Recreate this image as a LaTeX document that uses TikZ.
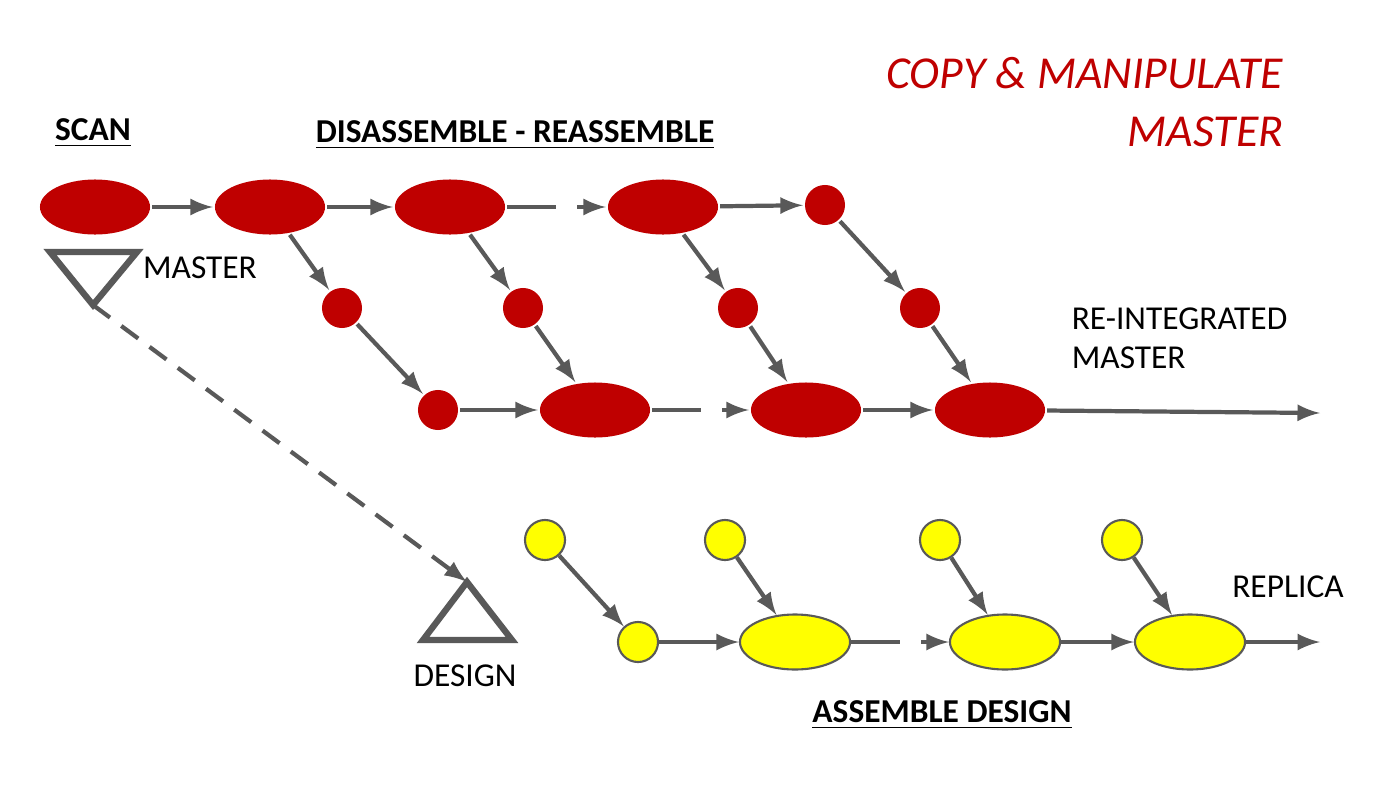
\documentclass[tikz,border=0pt]{standalone}
\usepackage{fontspec}
\setmainfont{Carlito}
\usetikzlibrary{arrows,shapes,positioning}
\definecolor{darkred}{rgb}{0.75, 0.0, 0.0}
\definecolor{arrowgray}{rgb}{0.35, 0.35, 0.35}
\definecolor{yel}{rgb}{1.0, 1.0, 0.0}

\begin{document}
\begin{tikzpicture}[x=0.01cm,y=-0.01cm,line width=1.2pt,
  big/.style={ellipse,fill=darkred,minimum width=1.1cm,minimum height=0.55cm,inner sep=0pt},
  small/.style={circle,fill=darkred,minimum size=0.4cm,inner sep=0pt},
  ybig/.style={ellipse,fill=yel,draw=arrowgray,line width=0.6pt,minimum width=1.1cm,minimum height=0.55cm,inner sep=0pt},
  ysmall/.style={circle,fill=yel,draw=arrowgray,line width=0.6pt,minimum size=0.4cm,inner sep=0pt},
  flow/.style={>=latex,->,draw=arrowgray},
  lbl/.style={font=\fontsize{9.5pt}{11pt}\selectfont},
  head/.style={font=\fontsize{9.5pt}{11pt}\selectfont\bfseries}]
    \useasboundingbox (0,0) rectangle (1400,806);
    % red chain
    \node (r1) at (95,207) [big] {};
    \node (r2) at (270,207) [big] {};
    \node (r3) at (450,207) [big] {};
    \node (r4) at (663,207) [big] {};
    \node (r5) at (825,205) [small] {};
    \node (m1) at (342,308) [small] {};
    \node (m2) at (523,308) [small] {};
    \node (m3) at (738,308) [small] {};
    \node (m4) at (920,308) [small] {};
    \node (b1) at (438,410) [small] {};
    \node (b2) at (595,410) [big] {};
    \node (b3) at (806,410) [big] {};
    \node (b4) at (990,410) [big] {};
    \coordinate (rend) at (1320,413);

    \draw [flow] (r1) -- (r2);
    \draw [flow] (r2) -- (r3);
    \draw [flow,dash pattern=on 14pt off 6pt on 3pt off 6pt] (r3) -- (r4);
    \draw [flow] (r4) -- (r5);
    \draw [flow] (r2) -- (m1);
    \draw [flow] (m1) -- (b1);
    \draw [flow] (r3) -- (m2);
    \draw [flow] (m2) -- (b2);
    \draw [flow] (r4) -- (m3);
    \draw [flow] (m3) -- (b3);
    \draw [flow] (r5) -- (m4);
    \draw [flow] (m4) -- (b4);
    \draw [flow] (b1) -- (b2);
    \draw [flow,dash pattern=on 14pt off 6pt on 3pt off 6pt] (b2) -- (b3);
    \draw [flow] (b3) -- (b4);
    \draw [flow] (b4) -- (rend);

    % triangles
    \coordinate (mtip) at (93,305);
    \coordinate (dtip) at (467,582);
    \draw [draw=arrowgray,line width=1.8pt,line join=miter] (50,252) -- (137,252) -- (mtip) -- cycle;
    \draw [draw=arrowgray,line width=1.8pt,line join=miter] (423,640) -- (512,640) -- (dtip) -- cycle;
    \draw [flow,dash pattern=on 6pt off 4pt] (mtip) -- (dtip);

    % yellow chain
    \node (y1) at (545,540) [ysmall] {};
    \node (y2) at (725,540) [ysmall] {};
    \node (y3) at (940,540) [ysmall] {};
    \node (y4) at (1122,540) [ysmall] {};
    \node (z1) at (638,642) [ysmall] {};
    \node (z2) at (795,642) [ybig] {};
    \node (z3) at (1005,642) [ybig] {};
    \node (z4) at (1190,642) [ybig] {};
    \coordinate (yend) at (1320,642);

    \draw [flow] (y1) -- (z1);
    \draw [flow] (y2) -- (z2);
    \draw [flow] (y3) -- (z3);
    \draw [flow] (y4) -- (z4);
    \draw [flow] (z1) -- (z2);
    \draw [flow,dash pattern=on 14pt off 6pt on 3pt off 6pt] (z2) -- (z3);
    \draw [flow] (z3) -- (z4);
    \draw [flow] (z4) -- (yend);

    % labels
    \node (scan) at (93,133) [head] {\underline{SCAN}};
    \node (dis) at (515,135) [head] {\underline{DISASSEMBLE - REASSEMBLE}};
    \node (mst) at (200,268) [lbl] {MASTER};
    \node (rim) at (1058,338) [lbl,anchor=west,align=left] {RE-INTEGRATED\\MASTER};
    \node (rep) at (1288,587) [lbl] {REPLICA};
    \node (des) at (465,676) [lbl] {DESIGN};
    \node (asm) at (942,715) [head] {\underline{ASSEMBLE DESIGN}};
    \node (cpy) at (1297,102) [anchor=east,align=right,text=darkred,font=\fontsize{13pt}{16.5pt}\selectfont\itshape] {COPY \& MANIPULATE\\MASTER};
\end{tikzpicture}
\end{document}
